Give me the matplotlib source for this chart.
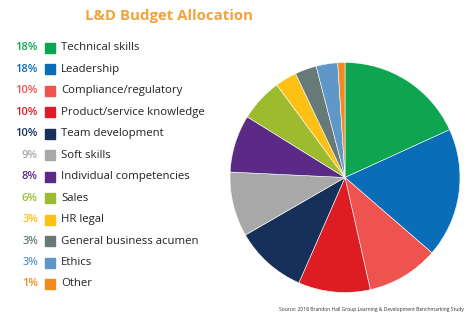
import matplotlib
matplotlib.use('Agg')
from matplotlib import pyplot as plt
from matplotlib.patches import Rectangle

plt.rcParams['font.family'] = ['Open Sans', 'DejaVu Sans']

categories = ['Technical skills', 'Leadership', 'Compliance/regulatory',
              'Product/service knowledge', 'Team development', 'Soft skills',
              'Individual competencies', 'Sales', 'HR legal',
              'General business acumen', 'Ethics', 'Other']
shares = [18, 18, 10, 10, 10, 9, 8, 6, 3, 3, 3, 1]
colors = ['#0ea550', '#0a6db8', '#ef5350', '#de1c24', '#16305a', '#a8a8a8',
          '#5a2a86', '#9cbb2e', '#fdc015', '#687a78', '#5f98c8', '#f28a20']

fig = plt.figure(figsize=(4.74, 3.22), dpi=100)
W, H = 474, 322

# pie
ax = fig.add_axes([230/W, 1 - 293/H, 230/W, 231/H])
ax.pie(shares, colors=colors, startangle=90, counterclock=False,
       wedgeprops={'linewidth': 0.4, 'edgecolor': 'white'})
ax.set_xlim(-1, 1)
ax.set_ylim(-1, 1)
ax.set_aspect('equal')

# title
fig.text(169/W, 1 - 16/H, 'L&D Budget Allocation', ha='center', va='center',
         fontsize=10.8, fontweight='bold', color='#f2a33c')

# legend
y0, dy = 48, 21.45
for i, (cat, s, c) in enumerate(zip(categories, shares, colors)):
    y = y0 + i*dy
    fig.text(38/W, 1 - y/H, f'{s}%', ha='right', va='center', fontsize=8,
             color=c, fontweight='semibold')
    fig.patches.append(Rectangle((45/W, 1 - (y+5)/H), 10/W, 10/H,
                                 transform=fig.transFigure, color=c,
                                 figure=fig))
    fig.text(61/W, 1 - y/H, cat, ha='left', va='center', fontsize=8.2,
             color='#222222')

fig.text(464/W, 1 - 309/H,
         'Source: 2018 Brandon Hall Group Learning & Development Benchmarking Study',
         ha='right', va='center', fontsize=3.6, color='#333333')

plt.savefig('out.png', dpi=100)
